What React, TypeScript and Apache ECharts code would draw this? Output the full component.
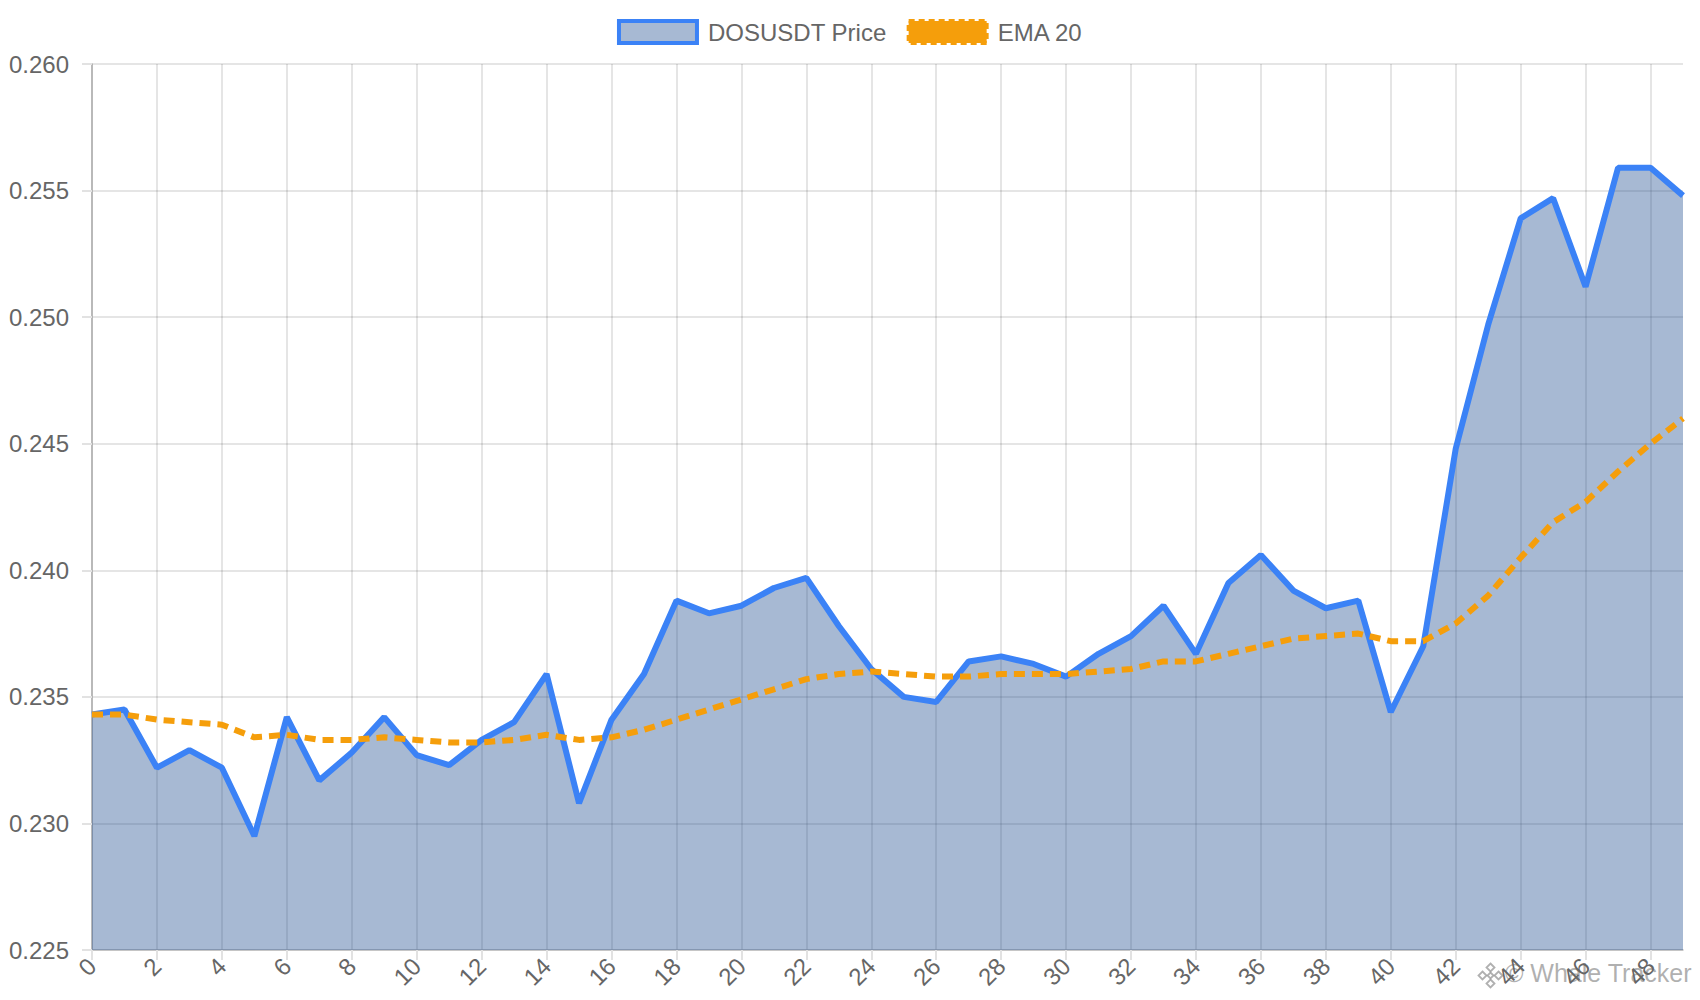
import React, { useEffect, useRef } from "react";
import * as echarts from "echarts";

const categories: string[] = Array.from({ length: 50 }, (_, i) => String(i));

const priceValues: number[] = [
  0.2343, 0.2345, 0.2322, 0.2329, 0.2322, 0.2295, 0.2342, 0.2317, 0.2328, 0.2342,
  0.2327, 0.2323, 0.2333, 0.234, 0.2359, 0.2308, 0.2341, 0.2359, 0.2388, 0.2383,
  0.2386, 0.2393, 0.2397, 0.2378, 0.2361, 0.235, 0.2348, 0.2364, 0.2366, 0.2363,
  0.2358, 0.2367, 0.2374, 0.2386, 0.2367, 0.2395, 0.2406, 0.2392, 0.2385, 0.2388,
  0.2344, 0.237, 0.2448, 0.2497, 0.2539, 0.2547, 0.2512, 0.2559, 0.2559, 0.2548,
];

const emaValues: number[] = [
  0.2343, 0.2343, 0.2341, 0.234, 0.2339, 0.2334, 0.2335, 0.2333, 0.2333, 0.2334,
  0.2333, 0.2332, 0.2332, 0.2333, 0.2335, 0.2333, 0.2334, 0.2337, 0.2341, 0.2345,
  0.2349, 0.2353, 0.2357, 0.2359, 0.236, 0.2359, 0.2358, 0.2358, 0.2359, 0.2359,
  0.2359, 0.236, 0.2361, 0.2364, 0.2364, 0.2367, 0.237, 0.2373, 0.2374, 0.2375,
  0.2372, 0.2372, 0.2379, 0.239, 0.2405, 0.2419, 0.2427, 0.2439, 0.245, 0.246,
];

const seriesNames: string[] = ["DOSUSDT Price", "EMA 20"];

export default function App() {
  const ref = useRef<HTMLDivElement>(null);

  useEffect(() => {
    document.body.style.margin = "0";
    if (!ref.current) return;
    const chart = echarts.init(ref.current, undefined, { renderer: "svg" });
    const font = "'Liberation Sans', Arial, Helvetica, sans-serif";
    const wm = "rgba(150,150,150,0.75)";
    const d = (cx: number, cy: number, r: number) => ({
      type: "polygon",
      shape: { points: [[cx, cy - r], [cx + r, cy], [cx, cy + r], [cx - r, cy]] },
      style: { fill: "none", stroke: wm, lineWidth: 1.8 },
    });
    chart.setOption({
      animation: false,
      textStyle: { fontFamily: font },
      legend: {
        top: 14,
        left: "center",
        itemWidth: 78,
        itemHeight: 22,
        itemGap: 20,
        textStyle: { fontSize: 24, color: "#666", fontFamily: font, padding: [0, 0, 0, 6] },
        data: [
          {
            name: seriesNames[0],
            icon: "rect",
            itemStyle: { color: "#a7b9d3", borderColor: "#3b82f6", borderWidth: 4 },
          },
          {
            name: seriesNames[1],
            icon: "rect",
            itemStyle: {
              color: "#f59e0b",
              borderColor: "#f59e0b",
              borderWidth: 4,
              borderType: [6, 4],
            },
          },
        ],
      },
      grid: { left: 92, right: 17, top: 64, bottom: 50, containLabel: false },
      xAxis: {
        type: "category",
        data: categories,
        boundaryGap: false,
        axisLine: { show: true, lineStyle: { color: "#bbb", width: 1.5 } },
        axisTick: {
          show: true,
          interval: 1,
          length: 10,
          lineStyle: { color: "#e2e2e2", width: 2 },
        },
        axisLabel: {
          interval: 1,
          rotate: 45,
          fontSize: 24,
          color: "#666",
          fontFamily: font,
          margin: 12,
        },
        splitLine: {
          show: true,
          interval: 1,
          lineStyle: { color: "rgba(0,0,0,0.1)", width: 2 },
        },
      },
      yAxis: {
        type: "value",
        min: 0.225,
        max: 0.26,
        interval: 0.005,
        axisLine: { show: true, lineStyle: { color: "#aaa", width: 1.5 } },
        axisTick: { show: true, length: 10, lineStyle: { color: "#e2e2e2", width: 2 } },
        axisLabel: {
          fontSize: 24,
          color: "#666",
          fontFamily: font,
          margin: 23,
          formatter: (v: number) => v.toFixed(3),
        },
        splitLine: { show: true, lineStyle: { color: "rgba(0,0,0,0.1)", width: 2 } },
      },
      series: [
        {
          name: seriesNames[0],
          type: "line",
          data: priceValues,
          symbol: "none",
          z: 2,
          lineStyle: { color: "#3b82f6", width: 6 },
          itemStyle: { color: "#3b82f6" },
          areaStyle: { color: "rgba(35,80,145,0.4)", opacity: 1, origin: "start" },
        },
        {
          name: seriesNames[1],
          type: "line",
          data: emaValues,
          symbol: "none",
          z: 3,
          lineStyle: { color: "#f59e0b", width: 6, type: [11, 7] },
          itemStyle: { color: "#f59e0b" },
        },
      ],
      graphic: [
        {
          type: "group",
          left: 1476,
          top: 961,
          children: [
            d(12, 4, 4),
            d(4, 12, 4),
            d(20, 12, 4),
            d(12, 20, 4),
            d(12, 12, 3),
          ],
        },
        {
          type: "text",
          left: 1505,
          top: 960,
          style: { text: "© Whale Tracker", fontSize: 25, fill: wm, fontFamily: font },
        },
      ],
    });
    return () => chart.dispose();
  }, []);

  return <div ref={ref} style={{ width: 1700, height: 1000 }} />;
}
